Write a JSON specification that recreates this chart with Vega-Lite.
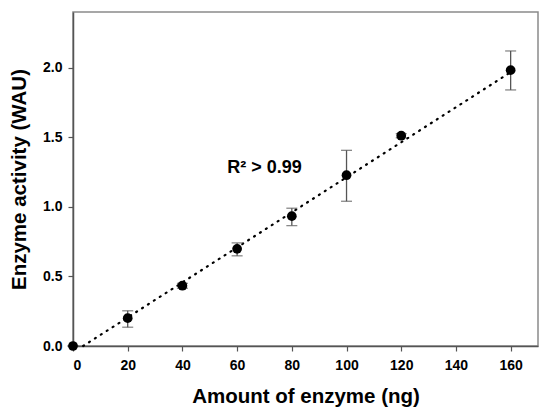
{
  "$schema": "https://vega.github.io/schema/vega-lite/v6.json",
  "autosize": "none",
  "width": 465,
  "height": 334,
  "padding": {"left": 73, "top": 12, "right": 12, "bottom": 70},
  "config": {
    "font": "Liberation Sans",
    "view": {"stroke": "#8a8a8a", "strokeWidth": 1.5},
    "axis": {
      "domainColor": "#555555",
      "domainWidth": 1.5,
      "tickColor": "#555555",
      "tickWidth": 1.2,
      "tickSize": 5,
      "grid": false,
      "labelFont": "Liberation Sans",
      "labelFontWeight": "bold",
      "labelFontSize": 14,
      "labelColor": "#000000",
      "titleFont": "Liberation Sans",
      "titleFontWeight": "bold",
      "titleFontSize": 20.5,
      "titleColor": "#000000"
    }
  },
  "datasets": {
    "points": [
      {"amount": 0, "activity": 0.0, "lo": 0.0, "hi": 0.0},
      {"amount": 20, "activity": 0.2, "lo": 0.135, "hi": 0.253},
      {"amount": 40, "activity": 0.433, "lo": 0.415, "hi": 0.45},
      {"amount": 60, "activity": 0.698, "lo": 0.648, "hi": 0.741},
      {"amount": 80, "activity": 0.933, "lo": 0.865, "hi": 0.99},
      {"amount": 100, "activity": 1.227, "lo": 1.04, "hi": 1.406},
      {"amount": 120, "activity": 1.511, "lo": 1.496, "hi": 1.526},
      {"amount": 160, "activity": 1.982, "lo": 1.84, "hi": 2.12}
    ],
    "fit": [
      {"amount": 3.7, "activity": 0.0},
      {"amount": 159, "activity": 1.955}
    ],
    "note": [
      {"amount": 70, "activity": 1.28, "label": "R² > 0.99"}
    ]
  },
  "layer": [
    {
      "data": {"name": "fit"},
      "mark": {"type": "line", "color": "#000000", "strokeWidth": 2.2, "strokeDash": [1, 6], "strokeCap": "round"},
      "encoding": {
        "x": {
          "field": "amount",
          "type": "quantitative",
          "scale": {"domain": [0, 170], "nice": false},
          "axis": {"values": [0, 20, 40, 60, 80, 100, 120, 140, 160], "labelPadding": 7, "titlePadding": 14},
          "title": "Amount of enzyme (ng)"
        },
        "y": {
          "field": "activity",
          "type": "quantitative",
          "scale": {"domain": [0, 2.4], "nice": false},
          "axis": {"values": [0, 0.5, 1, 1.5, 2], "format": ".1f", "labelPadding": 6, "titlePadding": 13},
          "title": "Enzyme activity (WAU)"
        }
      }
    },
    {
      "data": {"name": "points"},
      "mark": {"type": "rule", "color": "#555555", "strokeWidth": 1.3},
      "encoding": {
        "x": {"field": "amount", "type": "quantitative"},
        "y": {"field": "lo", "type": "quantitative"},
        "y2": {"field": "hi"}
      }
    },
    {
      "data": {"name": "points"},
      "mark": {"type": "tick", "orient": "horizontal", "color": "#555555", "size": 11, "thickness": 1.3},
      "encoding": {
        "x": {"field": "amount", "type": "quantitative"},
        "y": {"field": "lo", "type": "quantitative"}
      }
    },
    {
      "data": {"name": "points"},
      "mark": {"type": "tick", "orient": "horizontal", "color": "#555555", "size": 11, "thickness": 1.3},
      "encoding": {
        "x": {"field": "amount", "type": "quantitative"},
        "y": {"field": "hi", "type": "quantitative"}
      }
    },
    {
      "data": {"name": "points"},
      "mark": {"type": "point", "shape": "circle", "filled": true, "color": "#000000", "opacity": 1, "size": 95},
      "encoding": {
        "x": {"field": "amount", "type": "quantitative"},
        "y": {"field": "activity", "type": "quantitative"}
      }
    },
    {
      "data": {"name": "note"},
      "mark": {"type": "text", "font": "Liberation Sans", "fontWeight": "bold", "fontSize": 18, "color": "#000000", "align": "center", "baseline": "middle"},
      "encoding": {
        "x": {"field": "amount", "type": "quantitative"},
        "y": {"field": "activity", "type": "quantitative"},
        "text": {"field": "label"}
      }
    }
  ]
}
